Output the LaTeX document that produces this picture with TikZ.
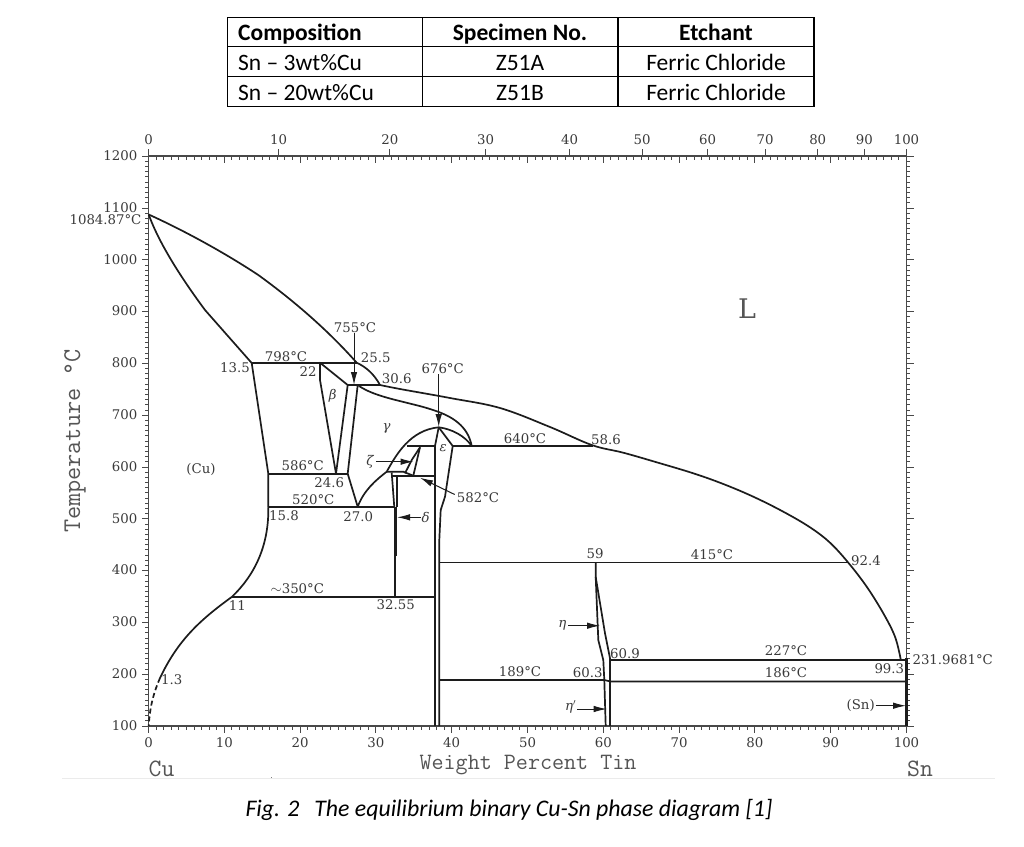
\documentclass[tikz,border=0pt]{standalone}
\usepackage{fontspec}
\usetikzlibrary{arrows.meta}
\newfontfamily\plotf{DejaVu Serif}
\newfontfamily\tabf{Carlito}
\definecolor{ink}{HTML}{1C1C1C}
\definecolor{txt}{HTML}{3A3A3A}
\definecolor{titletxt}{HTML}{555555}
\tikzset{
  curve/.style={draw=ink,line width=1.7pt,line join=round},
  hline/.style={draw=ink,line width=1.7pt},
  heavy/.style={draw=ink,line width=2.8pt},
  axisline/.style={draw=ink!80,line width=1.1pt},
  tick/.style={draw=ink!80,line width=.9pt},
  lab/.style={font=\plotf\fontsize{13.3}{15}\selectfont,text=txt,inner sep=0pt},
  glab/.style={font=\plotf\itshape\fontsize{13.3}{15}\selectfont,text=txt,inner sep=0pt},
  big/.style={font=\ttfamily\fontsize{23.4}{26}\selectfont,text=titletxt,inner sep=0pt},
  arr/.style={draw=ink,line width=1pt,-{Latex[length=13pt,width=6.5pt]}},
  tabline/.style={draw=black,line width=1.3pt},
  thead/.style={font=\tabf\bfseries\fontsize{23.5}{26}\selectfont,inner sep=0pt,anchor=base},
  tcell/.style={font=\tabf\fontsize{23.5}{26}\selectfont,inner sep=0pt,anchor=base},
}
\begin{document}
\begin{tikzpicture}[x=1pt,y=-1pt]
\useasboundingbox[fill=white] (0,0) rectangle (1024,846);
% table
\draw[tabline] (227.3,17.3) rectangle (814,106.7);
\draw[tabline] (227.3,46.7) -- (814,46.7);
\draw[tabline] (227.3,76.7) -- (814,76.7);
\draw[tabline] (422.5,17.3) -- (422.5,106.7);
\draw[tabline] (618,17.3) -- (618,106.7);
\node[thead,anchor=base west] (h1) at (238,40) {Composition};
\node[thead] (h2) at (520,40) {Specimen No.};
\node[thead] (h3) at (716,40) {Etchant};
\node[tcell,anchor=base west] (a1) at (238,70) {Sn – 3wt\%Cu};
\node[tcell] (a2) at (520,70) {Z51A};
\node[tcell] (a3) at (716,70) {Ferric Chloride};
\node[tcell,anchor=base west] (b1) at (238,100) {Sn – 20wt\%Cu};
\node[tcell] (b2) at (520,100) {Z51B};
\node[tcell] (b3) at (716,100) {Ferric Chloride};
% faint rule and caption
\draw[draw=black!8,line width=1pt] (62,778) -- (995,778);
\fill[black!50] (270.6,776.6) rectangle (271.6,777.6);
\node[font=\tabf\itshape\fontsize{23.8}{26}\selectfont,inner sep=0pt,anchor=base] (cap) at (509,816) {Fig. 2\hspace{15pt}The equilibrium binary Cu-Sn phase diagram [1]};
% axes
\draw[axisline] (148.5,726) rectangle (906.5,156);
\foreach \i in {0,...,100} {
  \pgfmathsetmacro{\xx}{148.5+7.58*\i}
  \draw[tick] (\xx,726) -- (\xx,729.5);
  \draw[tick] (\xx,156) -- (\xx,159.5);
}
\foreach \i in {0,10,...,100} {
  \pgfmathsetmacro{\xx}{148.5+7.58*\i}
  \draw[tick] (\xx,726) -- (\xx,733);
  \draw[tick] (\xx,156) -- (\xx,162.5);
  \node[lab] at (\xx,742.7) {\i};
}
\foreach \i in {0,...,110} {
  \pgfmathsetmacro{\yy}{726-5.18*\i}
  \draw[tick] (148.5,\yy) -- (145,\yy);
  \draw[tick] (906.5,\yy) -- (910,\yy);
}
\foreach \i in {100,200,...,1200} {
  \pgfmathsetmacro{\yy}{726-0.518*(\i-100)}
  \draw[tick] (148.5,\yy) -- (141.5,\yy);
  \draw[tick] (906.5,\yy) -- (914,\yy);
  \node[lab,anchor=east] at (137.5,\yy-0.5) {\i};
}
\foreach \a/\xx in {0/148.5,10/278.7,20/389.8,30/485.5,40/569.5,50/642.2,60/707.5,70/765,80/817.7,90/864.3,100/906.5} {
  \draw[tick] (\xx,156) -- (\xx,149);
  \node[lab] at (\xx,140) {\a};
}
% axis titles
\node[big,rotate=90,font=\ttfamily\fontsize{25.5}{28}\selectfont] (ty) at (75,441) {Temperature °C};
\node[big] (tx) at (528,765.5) {Weight Percent Tin};
\node[big,font=\ttfamily\fontsize{25}{28}\selectfont] (cu) at (161.5,768.5) {Cu};
\node[big,font=\ttfamily\fontsize{25}{28}\selectfont] (sn) at (920,768.5) {Sn};
\node[inner sep=0pt,font=\plotf\fontsize{27}{30}\selectfont,text=titletxt] (liq) at (747,309) {L};
% liquidus
\draw[curve] (148.7,214.5) .. controls (185,231) and (225,253) .. (258.3,275) .. controls (290,298) and (325,327) .. (356.7,362.7) .. controls (366,367) and (374,374) .. (380,385);
\draw[curve] plot[smooth,tension=.6] coordinates {(380,385) (400,389) (450,398) (500,408) (550,427) (591.7,445) (623.3,452.7) (656.7,462.3) (693.3,473.3) (723.3,484) (753.3,496.7) (783.3,511.7) (810,527.3) (830,542.7) (848.3,562.7) (866.7,586.7) (883.3,613.3) (895,636.7) (900.7,659.3)};
% solidus and (Cu)
\draw[curve] (148.7,214.5) .. controls (160,246) and (185,283) .. (205,310) -- (251.7,363);
\draw[curve] (251.7,363) -- (268.3,473.7) -- (268.3,507.3);
\draw[curve] (268.3,507.3) .. controls (269,545) and (255,575) .. (231.7,597) .. controls (200,620) and (178,640) .. (160,678);
\draw[curve,dash pattern=on 5pt off 3pt] (160,678) .. controls (154,692) and (150,705) .. (148.7,726);
% horizontals
\draw[hline] (251.7,362.7) -- (356.7,362.7);
\draw[hline] (268.3,473.7) -- (347.7,473.7);
\draw[hline] (268.3,507.3) -- (394.3,507.3);
\draw[hline] (231.7,596.7) -- (434.7,596.7);
\draw[hline] (406.7,446) -- (435,446);
\draw[hline] (452.7,446) -- (592.7,446);
\draw[hline] (393,475.7) -- (435,475.7);
\draw[hline] (439.3,562.5) -- (848.9,562.5);
\draw[hline] (610,659.7) -- (906.5,659.7);
\draw[hline] (439.3,680) -- (604.3,680) -- (610,681.4) -- (906.5,681.4);
\draw[curve,line width=1.9pt] (347.7,385) -- (380,385);
% beta
\draw[curve] (320,362.7) -- (320,380) -- (336,473.7) -- (347.7,385) -- cycle;
% gamma
\draw[curve] (357.7,385) -- (347.7,473.7) -- (357.7,506.7);
\draw[curve] (357.7,506.7) .. controls (364,490) and (376,480) .. (386.7,471.7) .. controls (396,455) and (410,430) .. (438.7,427.3) .. controls (452,429) and (465,436) .. (471.7,446);
\draw[curve] (357.7,385) .. controls (375,398) and (410,402) .. (433,410) .. controls (452,416) and (468,426) .. (471.7,446);
% epsilon
\draw[curve] (438.7,427.3) -- (435,446) -- (435,726);
\draw[curve] (438.7,427.3) -- (452.7,446) -- (445,496.7) -- (440.7,510) -- (439.3,540) -- (439.3,726);
% zeta, delta
\draw[curve] (420,447.3) -- (413.3,475.7);
\draw[curve] (420,447.3) -- (411.7,460) -- (405,473.3);
\draw[curve] (386.7,471.7) -- (403.3,471.7) -- (413.3,475.7);
\draw[curve] (391.7,472.5) -- (394.3,507.3);
\draw[curve] (397.3,475.7) -- (397.3,507.3);
\draw[heavy] (395.3,507.3) -- (395.3,556);
\draw[curve] (395,556) -- (395,596.7);
% eta
\draw[curve] (595.7,562.5) -- (595.7,577) -- (598.3,640) -- (603.3,660) -- (604.3,680) -- (605.7,726);
\draw[curve] (595.7,577) -- (605,633.3) -- (610,658.3) -- (610,726);
% Sn
\draw[heavy] (906.5,658) -- (906.5,726);
% labels with arrows
\node[lab] (t755) at (355,327.3) {755°C};
\coordinate (a755) at (354,385);
\draw[arr] (t755.south -| a755) -- (a755);
\node[lab] (t676) at (442.7,369) {676°C};
\coordinate (a676) at (438.7,427);
\draw[arr] (t676.south -| a676) -- (a676);
\node[glab] (tzeta) at (370,461.7) {ζ};
\coordinate (azeta) at (413.5,461.7);
\draw[arr] (tzeta.east) ++(2,0) -- (azeta);
\node[lab] (t582) at (478,497.5) {582°C};
\coordinate (a582) at (420,477.7);
\draw[arr] (t582.west) ++(-2,-3) -- (a582);
\node[glab] (tdelta) at (425.7,517.3) {δ};
\coordinate (adelta) at (397,517.3);
\draw[arr] (tdelta.west) ++(-1,0) -- (adelta);
\node[glab] (teta) at (562.3,625) {η};
\coordinate (aeta) at (600,625.7);
\draw[arr] (teta.east) ++(2,.7) -- (aeta);
\node[glab] (tetap) at (570.7,706.7) {η$'$};
\coordinate (aetap) at (606.7,709);
\draw[arr] (tetap.east) ++(1,2.3) -- (aetap);
\node[lab] (tsn) at (860.7,705.7) {(Sn)};
\coordinate (asn) at (906,705.7);
\draw[arr] (tsn.east) ++(1,0) -- (asn);
% plain labels
\foreach \x/\y/\t in {
  235/367.7/13.5, 286/356.7/798°C, 308/371.7/22, 375.7/357.7/25.5, 396.7/378.3/30.6,
  525/439/640°C, 606/440/58.6, 302.7/466/586°C, 329.3/482.3/24.6, 313.3/500/520°C,
  284/516/15.8, 358.3/516.7/27.0, 201/469/(Cu), 297.3/589/$\sim$350°C, 237.3/605.7/11,
  395.7/605/32.55, 595/554/59, 712/555/415°C, 866/561/92.4, 625/653.3/60.9,
  587.7/672.7/60.3, 520/671.7/189°C, 786/651/227°C, 786/673/186°C, 889.3/668.3/99.3,
  952.7/659.3/231.9681°C, 171.7/680/1.3, 105.5/219.3/1084.87°C}
  \node[lab] at (\x,\y) {\t};
\node[glab] (tbeta) at (332.7,395.5) {β};
\node[glab] (tgamma) at (386.7,428.3) {γ};
\node[glab] (teps) at (443.3,448.3) {ε};
\end{tikzpicture}
\end{document}
